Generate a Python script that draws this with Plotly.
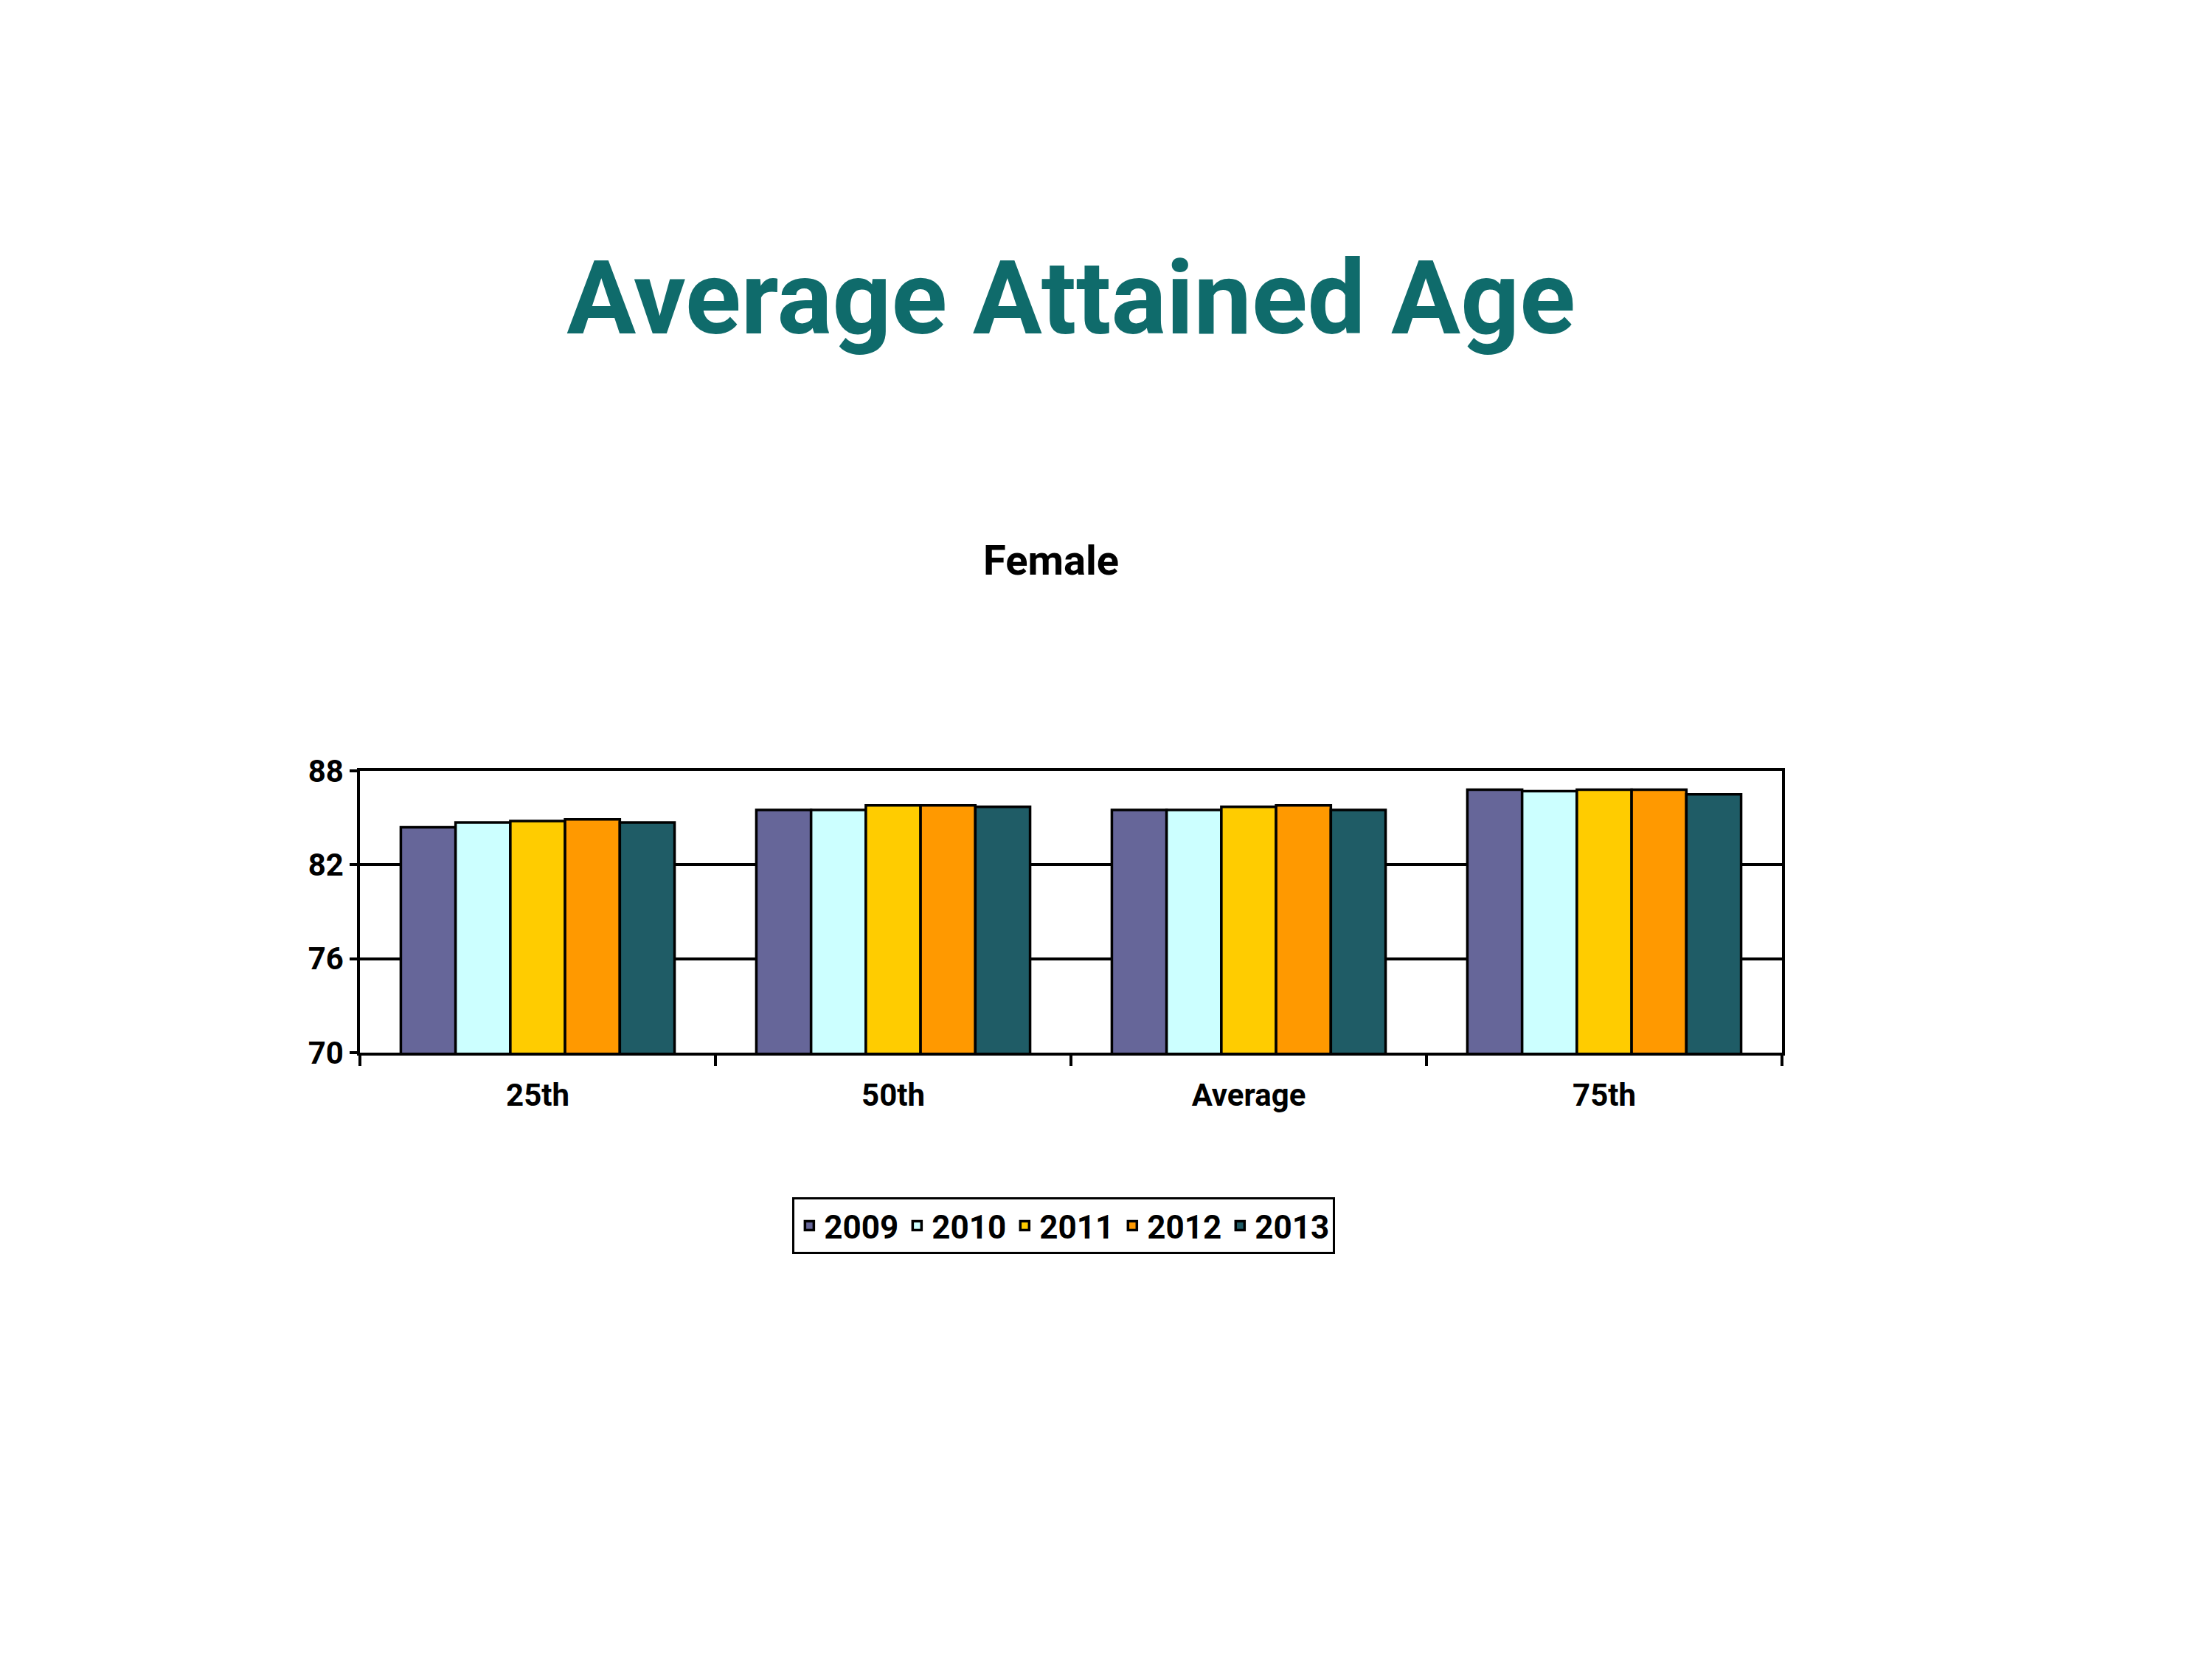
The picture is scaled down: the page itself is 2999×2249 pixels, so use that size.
import plotly.graph_objects as go

categories = ["25th", "50th", "Average", "75th"]
years = ["2009", "2010", "2011", "2012", "2013"]
v2009 = [84.4, 85.5, 85.5, 86.8]
v2010 = [84.7, 85.5, 85.5, 86.7]
v2011 = [84.8, 85.8, 85.7, 86.8]
v2012 = [84.9, 85.8, 85.8, 86.8]
v2013 = [84.7, 85.7, 85.5, 86.5]
colors = ["#666699", "#CCFFFF", "#FFCC00", "#FF9900", "#1F5C66"]

FONT = "Liberation Sans Narrow, Arial Narrow, Roboto, sans-serif"
fig = go.Figure()
for name, vals, c in zip(years, [v2009, v2010, v2011, v2012, v2013], colors):
    fig.add_trace(go.Bar(x=categories, y=vals, name="<b>" + name + "</b>",
                         marker=dict(color=c, line=dict(color="black", width=3.5))))

fig.update_layout(
    width=2999, height=2249, paper_bgcolor="white", plot_bgcolor="white",
    margin=dict(l=480, r=591, t=1037, b=830),
    barmode="group", bargap=0.23, bargroupgap=0,
    font=dict(family=FONT, size=42, color="black"),
    title=dict(text="<b>Average Attained Age</b>", x=0.5, xanchor="center", xref="paper",
               y=1 - 395 / 2249, yanchor="middle", font=dict(size=140, color="#0F6B6B", family=FONT)),
    legend=dict(orientation="h", x=0.495, xanchor="center", y=-0.615, yanchor="middle",
                bordercolor="black", borderwidth=3, font=dict(size=44, family=FONT),
                itemwidth=30, tracegroupgap=0),
    annotations=[dict(text="<b>Female</b>", x=0.486, xref="paper", y=1.745, yref="paper",
                      showarrow=False, font=dict(size=56, family=FONT), yanchor="middle")],
)
fig.update_xaxes(showline=True, linecolor="black", linewidth=3.5, mirror=True,
                 ticks="outside", tickson="boundaries", ticklen=14, tickwidth=3.5, tickcolor="black",
                 tickfont=dict(size=42, family=FONT), ticklabelstandoff=18,
                 tickvals=categories, ticktext=["<b>" + c + "</b>" for c in categories])
fig.update_yaxes(range=[70, 88], tickvals=[70, 76, 82, 88], ticktext=["<b>70</b>", "<b>76</b>", "<b>82</b>", "<b>88</b>"],
                 showline=True, linecolor="black",
                 linewidth=3.5, mirror=True, showgrid=True, gridcolor="black", gridwidth=3.5,
                 ticks="outside", ticklen=10, tickwidth=3.5, tickcolor="black",
                 tickfont=dict(size=42, family=FONT), zeroline=False)
fig.write_html("out.html")
